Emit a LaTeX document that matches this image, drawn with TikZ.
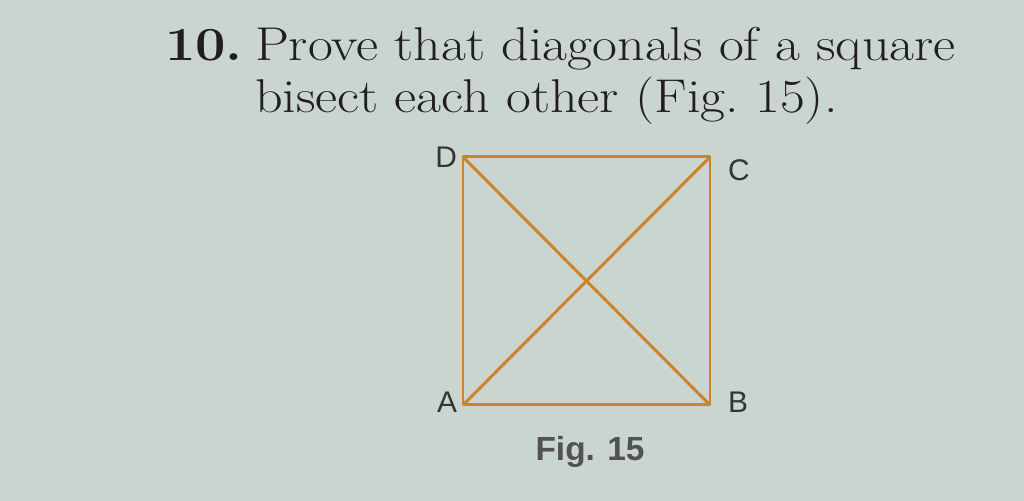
\documentclass[tikz,border=0pt]{standalone}
\usepackage{fontspec}
\usepackage{xcolor}
\usepackage{tikz}
\usetikzlibrary{positioning}
\newfontfamily\labelfont{Liberation Sans}
\newfontfamily\questionfont{Latin Modern Roman}[FakeStretch=1.14]
\definecolor{paper}{RGB}{203,213,208}
\definecolor{edgeline}{RGB}{204,132,42}
\definecolor{ink}{RGB}{34,30,30}
\definecolor{labelink}{RGB}{52,52,52}

\begin{document}
\begin{tikzpicture}[
                    every node/.style={inner sep=0pt, outer sep=0pt},
                    question/.style={font=\questionfont\fontsize{27}{31}\selectfont, text=ink, anchor=base west},
                    vertex/.style={font=\labelfont\fontsize{17}{20}\selectfont, text=labelink},
                    caption/.style={font=\labelfont\bfseries\fontsize{19}{22}\selectfont, text=labelink!85},
                    edge/.style={draw=edgeline, line width=1.7pt, line join=round}
                ]

                    % Page
                    \fill[paper] (0,0) rectangle (20.48,10.02);
                    \useasboundingbox (0,0) rectangle (20.48,10.02);

                    % Question text
                    \node (num) [question] at (3.30,8.80) {\textbf{10.}};
                    \node (line1) [question] at (5.10,8.80) {Prove that diagonals of a square};
                    \node (line2) [question] at (5.10,7.76) {bisect each other (Fig.~15).};

                    % Square corners
                    \coordinate (A) at (9.26,1.92);
                    \coordinate (B) at (14.20,1.92);
                    \coordinate (C) at (14.20,6.88);
                    \coordinate (D) at (9.26,6.88);

                    % Sides and diagonals
                    \draw[edge] (A) -- (B) -- (C) -- (D) -- cycle;
                    \draw[edge] (A) -- (C);
                    \draw[edge] (D) -- (B);

                    % Labels
                    \node (labelD) [vertex, left=0.12cm of D] {D};
                    \node (labelC) [vertex, right=0.36cm of C, yshift=-0.26cm] {C};
                    \node (labelA) [vertex, left=0.12cm of A, yshift=0.05cm] {A};
                    \node (labelB) [vertex, right=0.36cm of B, yshift=0.05cm] {B};
                    \node (fig) [caption] at (11.80,0.98) {Fig. 15};

                \end{tikzpicture}
\end{document}
